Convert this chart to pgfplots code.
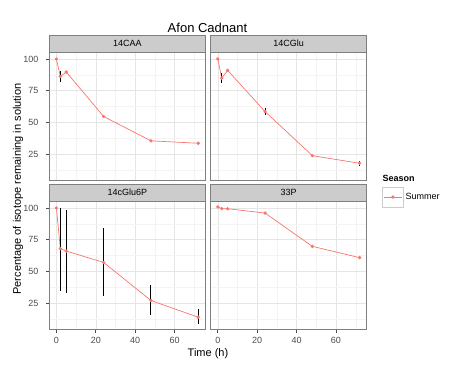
\documentclass[border=0pt]{standalone}
\usepackage{fontspec}
\setmainfont{Liberation Sans}
\usepackage{pgfplots}
\pgfplotsset{compat=1.18}
\definecolor{ggred}{HTML}{F8766D}
\definecolor{grid90}{HTML}{E5E5E5}
\definecolor{grid98}{HTML}{F4F4F4}
\definecolor{stripfill}{HTML}{CCCCCC}
\definecolor{border}{HTML}{7F7F7F}

\pgfplotsset{
  panel/.style={
    scale only axis, width=156pt, height=128pt, anchor=south west,
    xmin=-3.6, xmax=75.6, ymin=4.5, ymax=105.5,
    xtick={0,20,40,60}, ytick={25,50,75,100},
    minor xtick={10,30,50,70}, minor ytick={12.5,37.5,62.5,87.5},
    grid=both,
    major grid style={grid90, line width=0.5pt},
    minor grid style={grid98, line width=0.3pt},
    axis line style={border, line width=0.6pt},
    tick align=outside, xtick pos=left, ytick pos=left,
    major tick length=3.5pt, minor tick length=0pt,
    tick style={black!70, line width=0.6pt},
    ticklabel style={font=\fontsize{9}{10}\selectfont, text=black!70},
    yticklabel style={xshift=-4pt},
    xticklabel style={yshift=-1.5pt},
    /pgf/number format/assume math mode=true,
    every axis title shift=0pt,
    title style={at={(0.5,1)}, anchor=south, yshift=0pt, outer sep=0pt,
      fill=stripfill, draw=border,
      line width=0.6pt, minimum width=156pt, minimum height=16.5pt,
      inner sep=0pt, font=\fontsize{9}{10}\selectfont},
  },
  topp/.style={xmajorticks=false, xticklabels={}},
  rightp/.style={ymajorticks=false, yticklabels={}},
  main/.style={ggred, line width=0.7pt, mark=*, mark size=1.3pt, mark options={fill=ggred, draw=ggred}},
  eb/.style={draw=none, mark=none, forget plot,
    error bars/.cd, y dir=both, y explicit, error mark=none,
    error bar style={black, line width=0.9pt}},
}

\begin{document}
\begin{tikzpicture}
\path[use as bounding box] (0,0) rectangle (474pt,370pt);

% top-left: 14CAA
\begin{axis}[panel, topp, at={(49.3pt,190pt)}, title={14CAA}]
\addplot[main] coordinates {(0,100) (2,86.2) (5,89.7) (24,54.6) (48,35.4) (72,33.5)};
\addplot[eb] coordinates {(2,86.2) +- (0,4.0) (5,89.7) +- (0,1.0) (24,54.6) +- (0,0.9) (48,35.4) +- (0,0.7) (72,33.5) +- (0,0.7)};
\end{axis}

% top-right: 14CGlu
\begin{axis}[panel, topp, rightp, at={(210.7pt,190pt)}, title={14CGlu},
  legend style={at={(1.098,-0.133)}, anchor=west, draw=none, fill=none,
    font=\fontsize{9}{10}\selectfont, inner sep=0pt},
  legend cell align=left,
  legend image code/.code={
    \draw[draw=black!20, fill=white, line width=0.5pt] (0pt,-10pt) rectangle (21pt,10pt);
    \draw[ggred, line width=0.7pt] (1.5pt,0pt) -- (19.5pt,0pt);
    \fill[ggred] (10.5pt,0pt) circle (1.3pt);
  }]
\addplot[main] coordinates {(0,100) (2,85) (5,91) (24,58.5) (48,23.7) (72,17.7)};
\addlegendentry{Summer}
\addplot[eb] coordinates {(2,85) +- (0,3.6) (5,91) +- (0,0.8) (24,58.5) +- (0,3.0) (48,23.7) +- (0,0.7) (72,17.7) +- (0,1.8)};
\end{axis}

% bottom-left: 14cGlu6P
\begin{axis}[panel, at={(49.3pt,41pt)}, title={14cGlu6P}]
\addplot[main] coordinates {(0,100) (2,67.9) (5,66) (24,57) (48,27) (72,13.8)};
\addplot[eb] coordinates {(2,67.3) +- (0,33) (5,65.9) +- (0,32.8) (24,57.3) +- (0,26.9) (48,27.4) +- (0,11.5) (72,14.2) +- (0,5.7)};
\end{axis}

% bottom-right: 33P
\begin{axis}[panel, rightp, at={(210.7pt,41pt)}, title={33P}]
\addplot[main] coordinates {(0,100.8) (2,99.5) (5,99.4) (24,96) (48,69.7) (72,60.8)};
\addplot[eb] coordinates {(2,99.5) +- (0,0.6) (5,99.4) +- (0,0.6) (24,96) +- (0,0.8) (48,69.7) +- (0,0.6) (72,60.8) +- (0,0.6)};
\end{axis}

\node[anchor=base, font=\fontsize{13}{15}\selectfont] at (207.5pt,337.7pt) {Afon Cadnant};
\node[rotate=90, font=\fontsize{11}{13}\selectfont] at (18pt,181pt) {Percentage of isotope remaining in solution};
\node[font=\fontsize{11}{13}\selectfont] at (208pt,16.7pt) {Time (h)};
\node[anchor=base west, font=\bfseries\fontsize{9}{10}\selectfont, inner sep=0pt] at (382.5pt,188.3pt) {Season};
\end{tikzpicture}
\end{document}
